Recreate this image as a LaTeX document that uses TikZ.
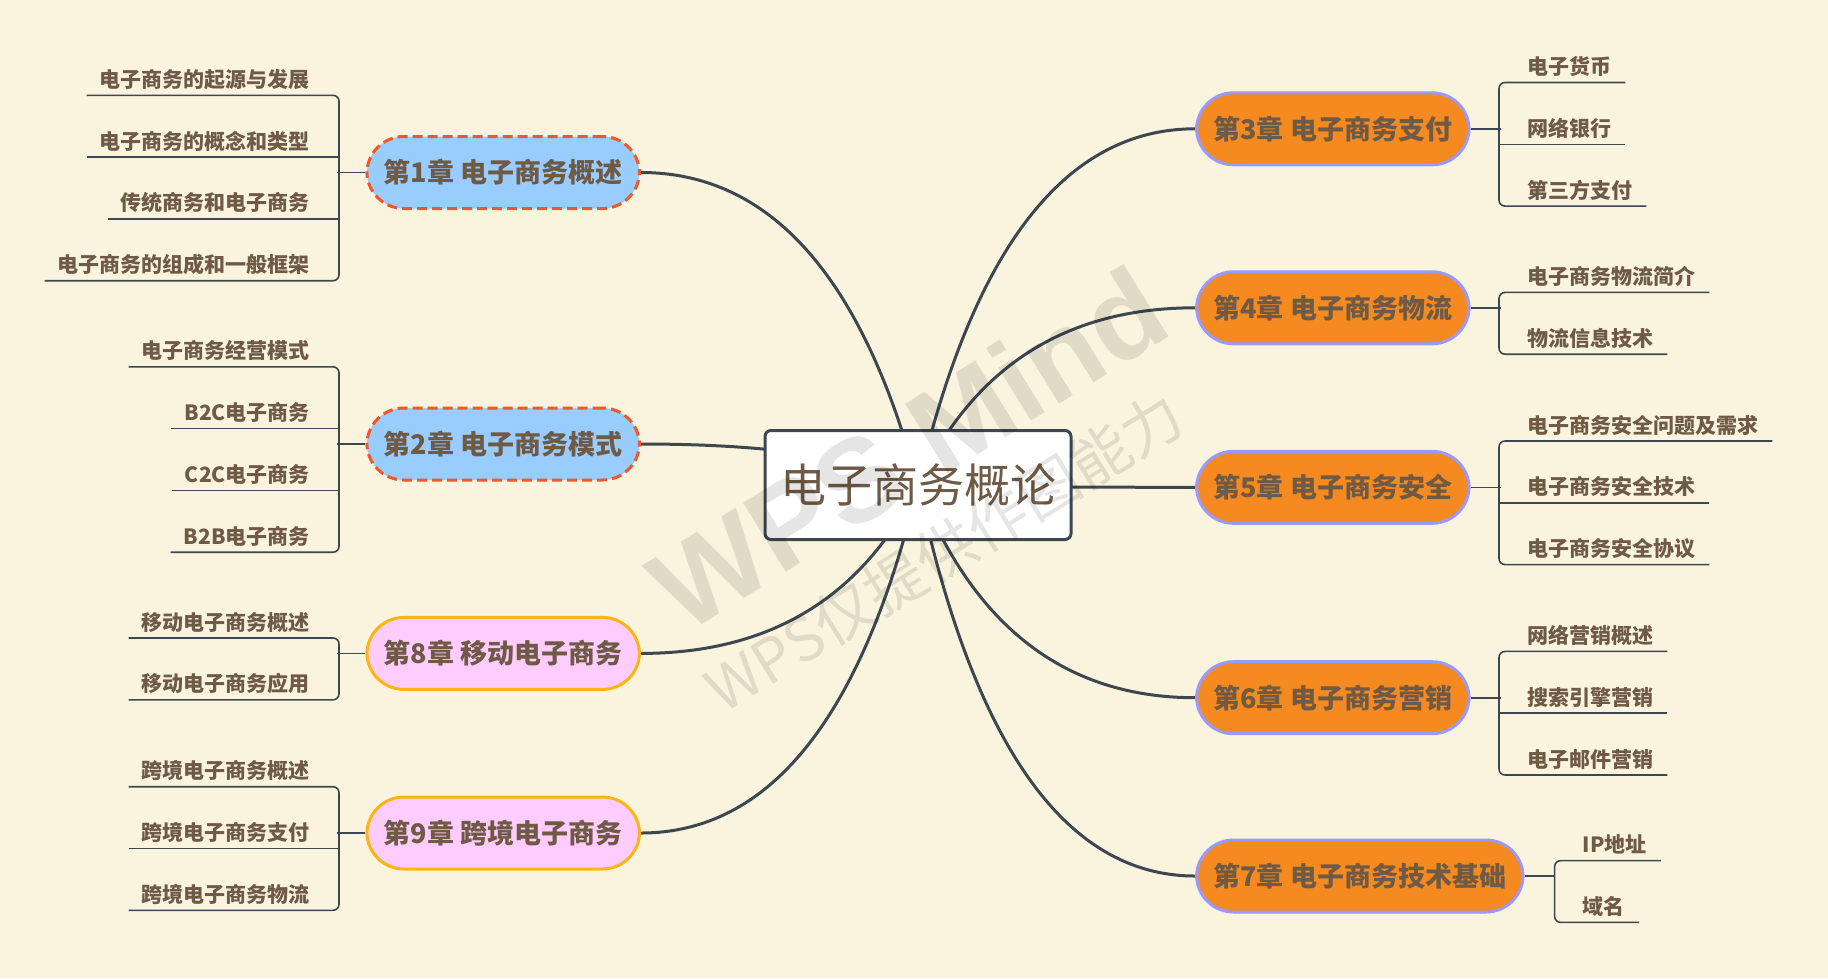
\documentclass[tikz,border=0pt]{standalone}
\usepackage{fontspec}
\newfontfamily\cjk{Noto Sans CJK SC}
\newfontfamily\wmsans{Liberation Sans}
\usetikzlibrary{calc}
\pgfdeclarelayer{bg}\pgfdeclarelayer{fg}\pgfsetlayers{bg,main,fg}
\definecolor{bgc}{HTML}{FAF4DE}
\definecolor{txt}{HTML}{6E5A45}
\definecolor{linec}{HTML}{3D4750}
\definecolor{blueF}{HTML}{99CCFF}
\definecolor{redB}{HTML}{F0582A}
\definecolor{pinkF}{HTML}{FFCCFF}
\definecolor{yelB}{HTML}{FDB515}
\definecolor{oraF}{HTML}{F48A20}
\definecolor{lavB}{HTML}{9999FF}
\tikzset{
  rootbox/.style={draw=linec, line width=3pt, fill=white, rounded corners=6pt,
    minimum width=306pt, minimum height=109pt, inner sep=0pt, text=txt,
    font=\cjk\fontsize{46}{46}\selectfont},
  chap/.style={rounded corners=37pt, minimum height=72pt, inner xsep=17pt, inner ysep=0pt,
    line width=3pt, text=txt, font=\cjk\bfseries\fontsize{27}{27}\selectfont},
  bluech/.style={chap, fill=blueF, draw=redB, dash pattern=on 10pt off 5pt},
  pinkch/.style={chap, fill=pinkF, draw=yelB},
  orach/.style={chap, fill=oraF, draw=lavB},
  leafL/.style={inner sep=0pt, anchor=base east, text=txt, font=\cjk\bfseries\fontsize{21}{21}\selectfont},
  leafR/.style={inner sep=0pt, anchor=base west, text=txt, font=\cjk\bfseries\fontsize{21}{21}\selectfont},
  branch/.style={draw=linec, line width=1.6pt},
  mainlink/.style={draw=linec, line width=3pt},
  wmark/.style={text=black, text opacity=0.1, inner sep=0pt, rotate=31.7}
}
\newcommand\mlink[2]{%
  \coordinate (t#1) at ($(root.center)!0.3!(#1.#2)$);
  \coordinate (q#1) at (t#1 |- #1.#2);
  \draw[mainlink] (root.center) .. controls ($(root.center)!2/3!(q#1)$) and ($(#1.#2)!2/3!(q#1)$) .. (#1.#2);}
\begin{document}
\begin{tikzpicture}[x=1pt,y=-1pt]
\begin{pgfonlayer}{bg}
\fill[bgc] (0,0) rectangle (1828,978);
\end{pgfonlayer}
\useasboundingbox (0,0) rectangle (1828,978);

% root
\node[rootbox] (root) at (918,485) {电子商务概论};

% chapters, left
\node[bluech, anchor=east] (c1) at (641,172.5) {第1章 电子商务概述};
\node[bluech, anchor=east] (c2) at (641,444) {第2章 电子商务模式};
\node[pinkch, anchor=east] (c8) at (641,653.4) {第8章 移动电子商务};
\node[pinkch, anchor=east] (c9) at (641,833) {第9章 跨境电子商务};
% chapters, right
\node[orach, anchor=west] (c3) at (1195,128.8) {第3章 电子商务支付};
\node[orach, anchor=west] (c4) at (1195,307.8) {第4章 电子商务物流};
\node[orach, anchor=west] (c5) at (1195,487.3) {第5章 电子商务安全};
\node[orach, anchor=west] (c6) at (1195,697.7) {第6章 电子商务营销};
\node[orach, anchor=west] (c7) at (1195,876) {第7章 电子商务技术基础};

% main links
\begin{pgfonlayer}{bg}
\mlink{c1}{east}
\mlink{c2}{east}
\mlink{c8}{east}
\mlink{c9}{east}
\mlink{c3}{west}
\mlink{c4}{west}
\mlink{c5}{west}
\mlink{c6}{west}
\mlink{c7}{west}
\end{pgfonlayer}

% leaves of chapter 1
\node[leafL] (a1) at (310,87.3) {电子商务的起源与发展};
\node[leafL] (a2) at (310,149.1) {电子商务的概念和类型};
\node[leafL] (a3) at (310,210.9) {传统商务和电子商务};
\node[leafL] (a4) at (310,272.7) {电子商务的组成和一般框架};
\draw[branch] (c1.west) -- ++(-28,0);
\draw[branch, rounded corners=6pt] ($(a1.base west)+(-13,8)$) -- ($(a1.base east)+(29,8)$) -- ($(a4.base east)+(29,8)$) -- ($(a4.base west)+(-13,8)$);
\draw[branch] ($(a2.base west)+(-13,8)$) -- ($(a2.base east)+(29,8)$);
\draw[branch] ($(a3.base west)+(-13,8)$) -- ($(a3.base east)+(29,8)$);

% leaves of chapter 2
\node[leafL] (b1) at (310,358.8) {电子商务经营模式};
\node[leafL] (b2) at (310,420.6) {B2C电子商务};
\node[leafL] (b3) at (310,482.4) {C2C电子商务};
\node[leafL] (b4) at (310,544.2) {B2B电子商务};
\draw[branch] (c2.west) -- ++(-28,0);
\draw[branch, rounded corners=6pt] ($(b1.base west)+(-13,8)$) -- ($(b1.base east)+(29,8)$) -- ($(b4.base east)+(29,8)$) -- ($(b4.base west)+(-13,8)$);
\draw[branch] ($(b2.base west)+(-13,8)$) -- ($(b2.base east)+(29,8)$);
\draw[branch] ($(b3.base west)+(-13,8)$) -- ($(b3.base east)+(29,8)$);

% leaves of chapter 8
\node[leafL] (h1) at (310,630) {移动电子商务概述};
\node[leafL] (h2) at (310,691.8) {移动电子商务应用};
\draw[branch] (c8.west) -- ++(-28,0);
\draw[branch, rounded corners=6pt] ($(h1.base west)+(-13,8)$) -- ($(h1.base east)+(29,8)$) -- ($(h2.base east)+(29,8)$) -- ($(h2.base west)+(-13,8)$);

% leaves of chapter 9
\node[leafL] (i1) at (310,778.7) {跨境电子商务概述};
\node[leafL] (i2) at (310,840.5) {跨境电子商务支付};
\node[leafL] (i3) at (310,902.3) {跨境电子商务物流};
\draw[branch] (c9.west) -- ++(-28,0);
\draw[branch, rounded corners=6pt] ($(i1.base west)+(-13,8)$) -- ($(i1.base east)+(29,8)$) -- ($(i3.base east)+(29,8)$) -- ($(i3.base west)+(-13,8)$);
\draw[branch] ($(i2.base west)+(-13,8)$) -- ($(i2.base east)+(29,8)$);

% leaves of chapter 3
\node[leafR] (d1) at (1527,74.5) {电子货币};
\node[leafR] (d2) at (1527,136.3) {网络银行};
\node[leafR] (d3) at (1527,198.1) {第三方支付};
\draw[branch] (c3.east) -- ++(30,0);
\draw[branch, rounded corners=6pt] ($(d1.base east)+(14,8)$) -- ($(d1.base west)+(-28,8)$) -- ($(d3.base west)+(-28,8)$) -- ($(d3.base east)+(14,8)$);
\draw[branch] ($(d2.base west)+(-28,8)$) -- ($(d2.base east)+(14,8)$);

% leaves of chapter 4
\node[leafR] (e1) at (1527,284.4) {电子商务物流简介};
\node[leafR] (e2) at (1527,346.2) {物流信息技术};
\draw[branch] (c4.east) -- ++(30,0);
\draw[branch, rounded corners=6pt] ($(e1.base east)+(14,8)$) -- ($(e1.base west)+(-28,8)$) -- ($(e2.base west)+(-28,8)$) -- ($(e2.base east)+(14,8)$);

% leaves of chapter 5
\node[leafR] (f1) at (1527,433) {电子商务安全问题及需求};
\node[leafR] (f2) at (1527,494.8) {电子商务安全技术};
\node[leafR] (f3) at (1527,556.6) {电子商务安全协议};
\draw[branch] (c5.east) -- ++(30,0);
\draw[branch, rounded corners=6pt] ($(f1.base east)+(14,8)$) -- ($(f1.base west)+(-28,8)$) -- ($(f3.base west)+(-28,8)$) -- ($(f3.base east)+(14,8)$);
\draw[branch] ($(f2.base west)+(-28,8)$) -- ($(f2.base east)+(14,8)$);

% leaves of chapter 6
\node[leafR] (g1) at (1527,643.4) {网络营销概述};
\node[leafR] (g2) at (1527,705.2) {搜索引擎营销};
\node[leafR] (g3) at (1527,767) {电子邮件营销};
\draw[branch] (c6.east) -- ++(30,0);
\draw[branch, rounded corners=6pt] ($(g1.base east)+(14,8)$) -- ($(g1.base west)+(-28,8)$) -- ($(g3.base west)+(-28,8)$) -- ($(g3.base east)+(14,8)$);
\draw[branch] ($(g2.base west)+(-28,8)$) -- ($(g2.base east)+(14,8)$);

% leaves of chapter 7
\node[leafR] (k1) at ($(c7.east)+(58,-23.4)$) {IP地址};
\node[leafR] (k2) at ($(c7.east)+(58,38.4)$) {域名};
\draw[branch] (c7.east) -- ++(30,0);
\draw[branch, rounded corners=6pt] ($(k1.base east)+(14,8)$) -- ($(k1.base west)+(-28,8)$) -- ($(k2.base west)+(-28,8)$) -- ($(k2.base east)+(14,8)$);

% watermark
\begin{pgfonlayer}{fg}
\node[wmark, font=\wmsans\bfseries\fontsize{118}{118}\selectfont] (wm1) at (908,448) {WPS Mind};
\node[wmark, font=\cjk\fontsize{60}{60}\selectfont] (wm2) at (944,552) {WPS仅提供作图能力};
\end{pgfonlayer}
\end{tikzpicture}
\end{document}
